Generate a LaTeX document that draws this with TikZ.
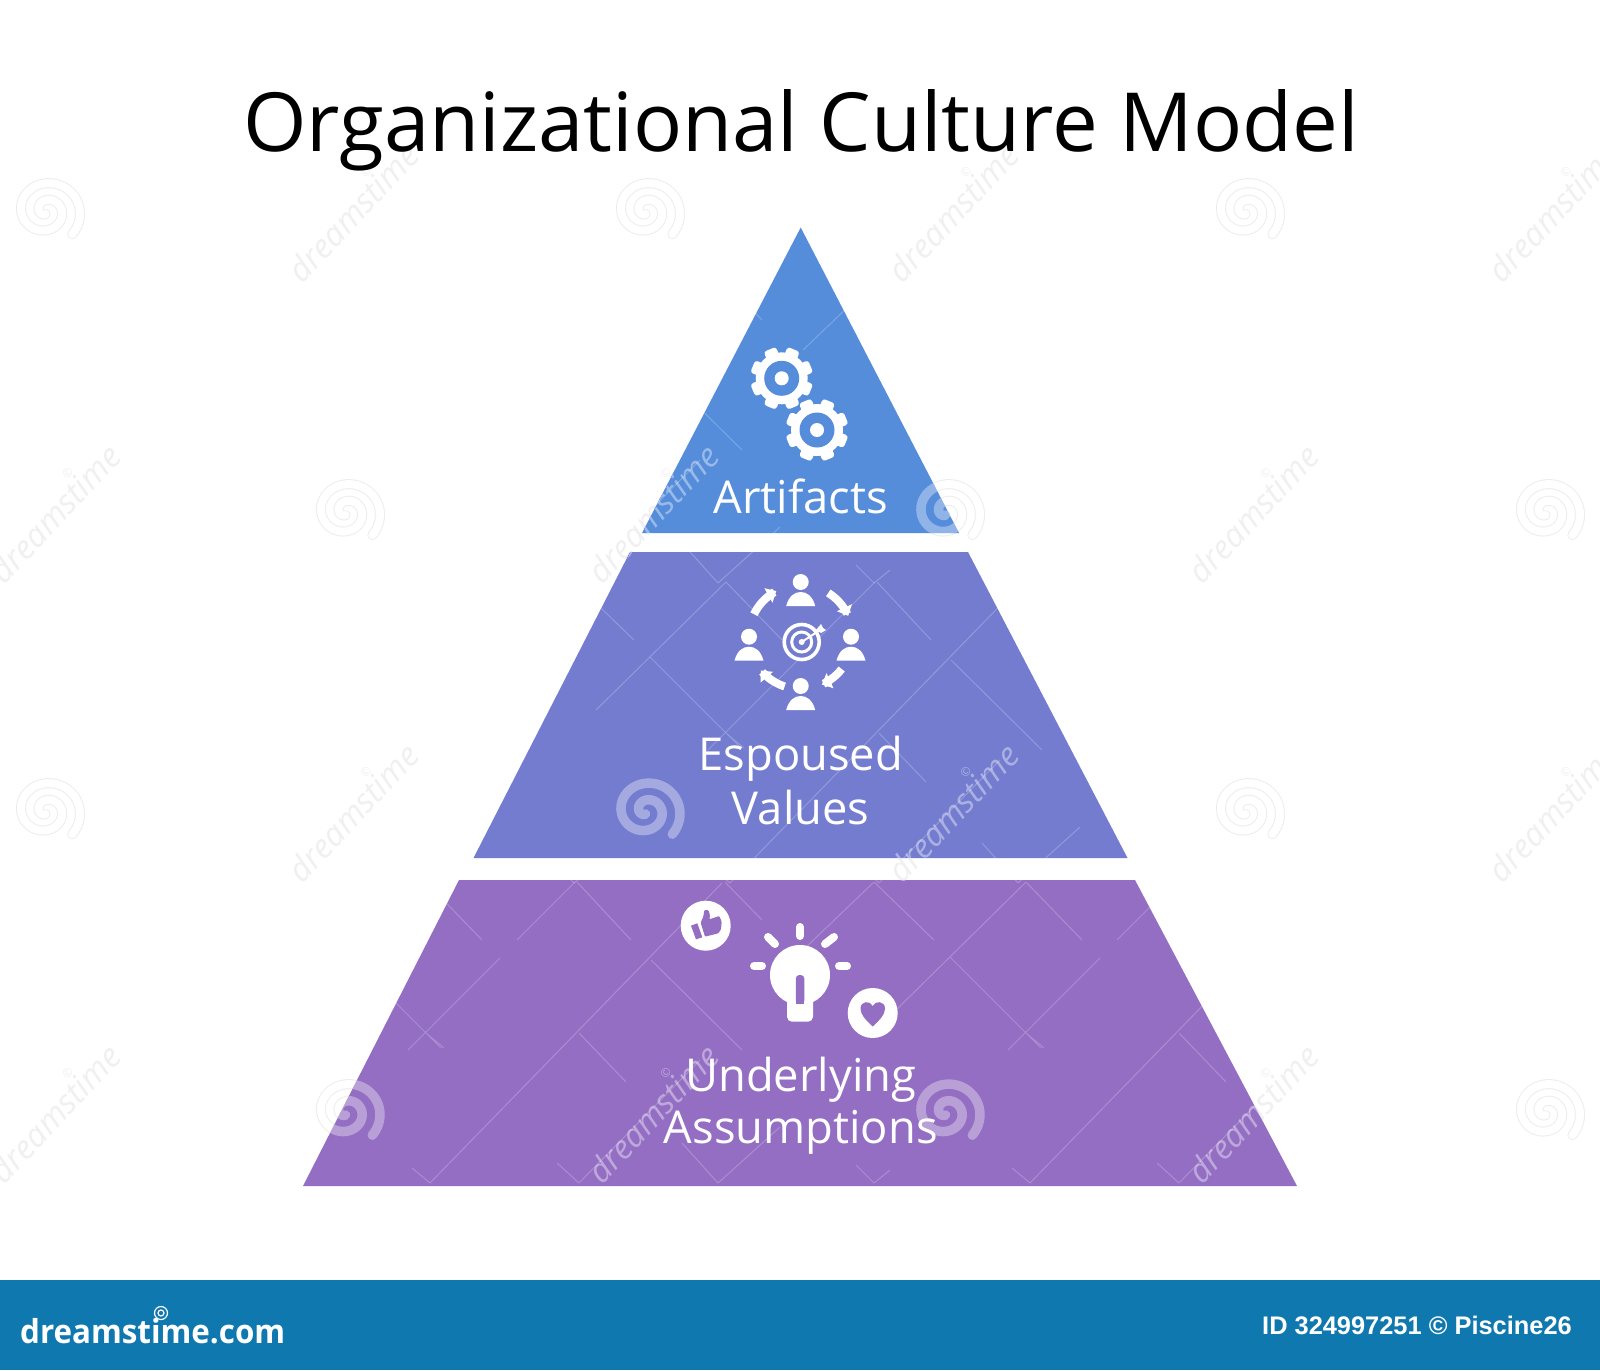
\documentclass[tikz,border=0pt]{standalone}
\usepackage{fontspec}
\setmainfont{Open Sans}
\newfontfamily\idfont{Liberation Sans}
\usetikzlibrary{arrows.meta}
\definecolor{bluec}{HTML}{558DDB}
\definecolor{midc}{HTML}{747CD0}
\definecolor{purc}{HTML}{936EC3}
\definecolor{footc}{HTML}{0F78AF}
\tikzset{
  x=1pt,y=-1pt,
  lab/.style={text=white,anchor=base,inner sep=0pt,font=\fontsize{45.3}{50}\selectfont},
  wmtext/.style={anchor=center,inner sep=0pt,rotate=47,font=\itshape\fontsize{33}{36}\selectfont},
  ray/.style={draw=white,line width=8pt,line cap=round},
  cyc/.style={draw=white,line width=8pt,-{Triangle[width=16pt,length=9pt]}},
}
\newcommand{\wmword}{dreamst\rlap{\raisebox{.8em}{\fontsize{12}{12}\selectfont\upshape ©}}ime}
\newcommand{\spiralpath}[4]{% x y colour width
  \draw[line width=#4pt,color=#3,line cap=round]
    plot[domain=100:763,samples=80,smooth]
    ({#1-3+(3+(\x-100)/663*33)*cos(\x)},{#2+2+(3+(\x-100)/663*31)*sin(\x)});}
\newcommand{\gearat}[2]{%
  \foreach \a in {22.5,67.5,...,360}{
    \fill[white,rounded corners=3pt] ({#1+21*cos(\a-18)},{#2+21*sin(\a-18)})
      -- ({#1+32*cos(\a-12)},{#2+32*sin(\a-12)})
      -- ({#1+32*cos(\a+12)},{#2+32*sin(\a+12)})
      -- ({#1+21*cos(\a+18)},{#2+21*sin(\a+18)}) -- cycle;
  }
  \fill[white] (#1,#2) circle[radius=26];
  \fill[bluec] (#1,#2) circle[radius=17.5];
  \fill[white] (#1,#2) circle[radius=7];
}
\newcommand{\personat}[2]{%
  \fill[white] (#1,#2) circle[radius=8];
  \fill[white] ({#1-14.5},{#2+24}) .. controls ({#1-12},{#2+14}) and ({#1-6},{#2+10}) .. (#1,{#2+10})
     .. controls ({#1+6},{#2+10}) and ({#1+12},{#2+14}) .. ({#1+14.5},{#2+24}) -- cycle;
}
\newcommand{\cycarrow}[2]{% start angle, end angle
  \draw[cyc] plot[domain=#1:#2,samples=12,smooth] ({800.7+52*cos(\x)},{637-52*sin(\x)});
}
\newcommand{\gridset}{%
  \draw (517,940)--(575,882) (577,882)--(631,940)
   (430,1183)--(722,883) (651,960)--(742,1050) (725,882)--(762,920)
   (579,1033)--(626,1082) (803,950)--(874,882) (874,882)--(934,940)
   (896,1010)--(1026,882) (950,957)--(1041,1048) (1026,882)--(1082,940)
   (1008,1050)--(1100,958) (1026,1033)--(1044,1048)
   (1012,1168)--(1030,1183) (856,1165)--(874,1183)
   (874,1183)--(890,1170) (718,1183)--(780,1127) (557,1163)--(579,1183)
   (579,1183)--(700,1060) (682,1143)--(718,1183);
}
\begin{document}
\begin{tikzpicture}
\useasboundingbox (0,0) rectangle (1600,1370);
\fill[white] (0,0) rectangle (1600,1370);

% faint watermark on the white ground
\foreach \px/\py in {49/209,649/209,1249/209,349/510,949/510,1549/510,49/809,649/809,1249/809,349/1110,949/1110,1549/1110}{
  \spiralpath{\px}{\py}{black!7}{10}
  \spiralpath{\px}{\py}{white}{8}
}
\foreach \px/\py [count=\i] in {349/209,949/209,1549/209,51/510,649/510,1249/510,349/809,949/809,1549/809,51/1110,649/1110,1249/1110}{
  \node[wmtext,text=black!6] (wmg\i) at (\px,\py) {\wmword};
}

% title
\node[anchor=base,inner sep=0pt,font=\fontsize{81.6}{90}\selectfont] (title) at (801,151) {Organizational Culture Model};

% pyramid
\fill[bluec] (800.7,227.5) -- (959,533) -- (642,533) -- cycle;
\fill[midc] (630,552) -- (968,552) -- (1127.5,858) -- (473.5,858) -- cycle;
\fill[purc] (459,880) -- (1135,880) -- (1297,1186) -- (303,1186) -- cycle;

% watermark over the pyramid
\begin{scope}
\clip (800.7,227.5) -- (959,533) -- (642,533) -- cycle
      (630,552) -- (968,552) -- (1127.5,858) -- (473.5,858) -- cycle
      (459,880) -- (1135,880) -- (1297,1186) -- (303,1186) -- cycle;
\begin{scope}[draw=white,draw opacity=.22,line width=1pt]
  \foreach \sx/\sy in {0/0,-600/0,600/0,300/-300,-300/-300,0/-600}{
    \begin{scope}[shift={(\sx,\sy)}]\gridset\end{scope}
  }
\end{scope}
\begin{scope}[opacity=.35]
\foreach \px/\py in {349/510,949/510,649/809,349/1110,949/1110}{
  \spiralpath{\px}{\py}{white}{9.5}
}
\end{scope}
\foreach \px/\py [count=\i] in {649/510,949/809,649/1110,1249/1110,51/1110}{
  \node[wmtext,text=white,text opacity=.4] (wmp\i) at (\px,\py) {\wmword};
}
\end{scope}

% gears
\gearat{781.7}{378.3}
\gearat{817}{430}

% team and target
\personat{800.7}{582}
\personat{749}{636.7}
\personat{851}{636.7}
\personat{800.7}{686}
\cycarrow{154}{118}
\cycarrow{58}{24}
\cycarrow{-38}{-66}
\cycarrow{-108}{-140}
\draw[white,line width=3.6pt] (801.7,642) circle[radius=17.5];
\draw[white,line width=3pt] (801.7,642) circle[radius=10];
\fill[white] (801.7,642) circle[radius=3];
\draw[white,line width=2pt] (801.7,642) -- (820,630);
\fill[white] (816,630) -- (821,624) -- (823,628) -- (826,630) -- (821,633) -- cycle;

% bulb
\fill[white] (800,975) circle[radius=30];
\fill[white,rounded corners=5pt] (787,995) rectangle (813,1021.7);
\fill[purc,rounded corners=3.5pt] (795.8,1004) -- (795.8,975) -- (804.3,975) -- (804.3,1004) -- cycle;
\fill[purc] (795.8,990) rectangle (804.3,1004);
\draw[ray] (800,927) -- (800,936);
\draw[ray] (754,966) -- (762,966);
\draw[ray] (839,966) -- (847,966);
\draw[ray] (768,937) -- (775,944);
\draw[ray] (825,944) -- (834,937);

% thumb
\fill[white] (705.7,925.7) circle[radius=25];
\begin{scope}[shift={(660,890)},x=.3333pt,y=-.3333pt]
  \fill[purc,rounded corners=1pt] (122,98)--(130,80)--(133,60)--(145,60)--(150,75)--(148,88)--(178,78)--(185,95)--(183,118)--(175,130)--(135,140)--cycle;
  \fill[purc] (93,107)--(112,100)--(127,142)--(108,148)--cycle;
\end{scope}

% heart
\fill[white] (872.7,1013) circle[radius=25];
\fill[purc] (872.7,1026.5) .. controls (866,1020) and (860.5,1015) .. (860.5,1008.5)
  .. controls (860.5,1001) and (870,1000) .. (872.7,1006)
  .. controls (875.4,1000) and (885,1001) .. (885,1008.5)
  .. controls (885,1015) and (879.4,1020) .. (872.7,1026.5) -- cycle;

% labels
\node[lab] (art) at (800.7,513) {Artifacts};
\node[lab] (esp) at (800.7,770) {Espoused};
\node[lab] (val) at (800.7,824) {Values};
\node[lab] (und) at (800.7,1091) {Underlying};
\node[lab] (ass) at (800.7,1143) {Assumptions};

% footer
\fill[footc] (0,1280) rectangle (1600,1370);
\node[anchor=base west,inner sep=0pt,text=white,font=\bfseries\fontsize{33}{36}\selectfont] (logo) at (20,1343) {\scalebox{.95}[1]{dreamstime.com}};
\draw[white,line width=1.2pt] (161,1313) circle[radius=6.5];
\draw[white,line width=1.2pt] (161,1313) circle[radius=3];
\node[anchor=base east,inner sep=0pt,text=white,font=\idfont\bfseries\fontsize{25.4}{28}\selectfont] (idt) at (1572,1334) {ID 324997251 © Piscine26};
\end{tikzpicture}
\end{document}
